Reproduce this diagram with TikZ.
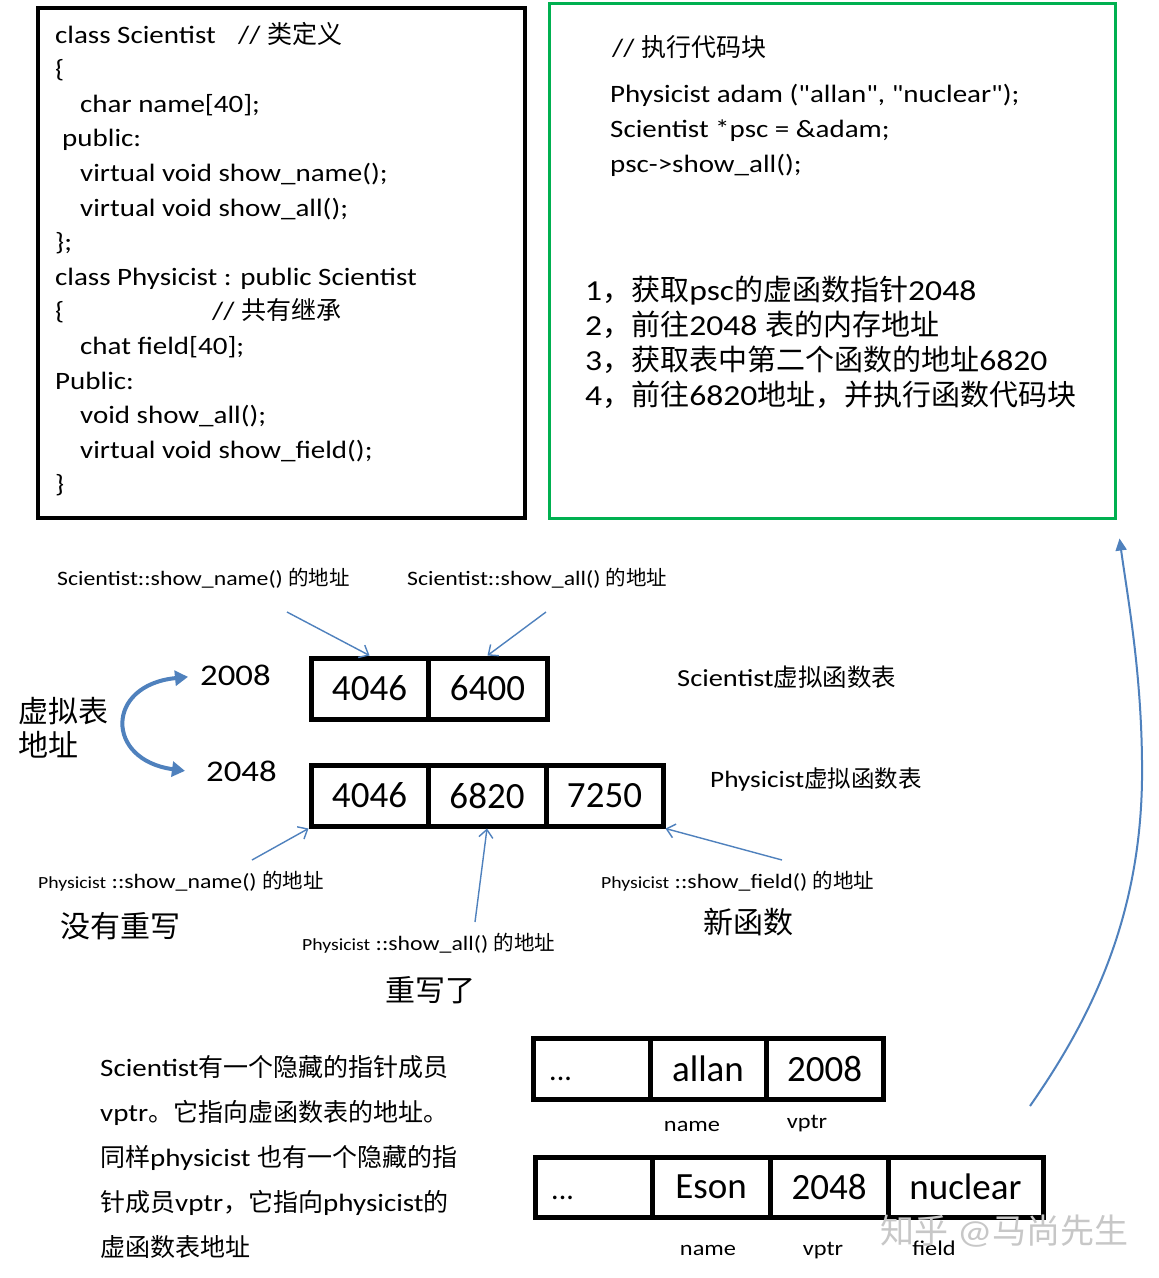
\documentclass[tikz,border=0pt]{standalone}
\usepackage{fontspec}
\setmainfont{Carlito}[FakeStretch=1.16]
\newfontfamily\qfont{Carlito}[FakeStretch=1.16]
\newfontfamily\cellfont{Carlito}
\newfontfamily\cjk{Noto Sans CJK SC}
\usetikzlibrary{arrows.meta}
\newcommand\zh[1]{{\cjk #1}}
\definecolor{arrowblue}{RGB}{79,129,189}
\definecolor{boxgreen}{RGB}{0,176,80}
\begin{document}
\begin{tikzpicture}[x=1pt,y=-1pt,
  every node/.style={inner sep=0pt},
  codetxt/.style={anchor=base west, font=\fontsize{25}{28}\selectfont},
  steptxt/.style={anchor=base west, font=\fontsize{29}{34}\selectfont},
  lbl/.style={anchor=base west, font=\fontsize{20.5}{24}\selectfont},
  bigtxt/.style={anchor=base west, font=\fontsize{30}{34}\selectfont},
  midtxt/.style={anchor=base west, font=\fontsize{24.5}{28}\selectfont},
  paratxt/.style={anchor=base west, font=\fontsize{25}{28}\selectfont},
  fieldlbl/.style={anchor=base, font=\fontsize{21}{24}\selectfont},
  cell/.style={draw, line width=5pt, minimum height=61pt, font=\cellfont\fontsize{37}{40}\selectfont},
  ptr/.style={draw=arrowblue, line width=1.4pt, -{Straight Barb[length=8pt,width=14pt]}},
  curvearrow/.style={draw=arrowblue, line width=4pt, {Triangle[length=13pt,width=15pt]}-{Triangle[length=13pt,width=15pt]}},
  bigarrow/.style={draw=arrowblue, line width=2pt, -{Triangle[length=12pt,width=11pt]}}
]
\useasboundingbox (0,0) rectangle (1159,1278);
\fill[white] (0,0) rectangle (1159,1278);

% ---------- left code box ----------
\node[draw, line width=4pt, minimum width=487pt, minimum height=510pt] (codebox) at (281.5,263) {};
\node[codetxt] (l1) at (55,43) {class Scientist};
\node[codetxt] (l1c) at (238,43) {// \zh{类定义}};
\node[codetxt] (l2) at (55,77.6) {\{};
\node[codetxt] (l3) at (80,112.2) {char name[40];};
\node[codetxt] (l4) at (62,146.8) {public:};
\node[codetxt] (l5) at (80,181.4) {virtual void show\_name();};
\node[codetxt] (l6) at (80,216) {virtual void show\_all();};
\node[codetxt] (l7) at (55,250.6) {\};};
\node[codetxt] (l8) at (55,285.2) {class Physicist : public Scientist};
\node[codetxt] (l9) at (55,319.8) {\{};
\node[codetxt] (l9c) at (212,319.8) {// \zh{共有继承}};
\node[codetxt] (l10) at (80,354.4) {chat field[40];};
\node[codetxt] (l11) at (55,389) {Public:};
\node[codetxt] (l12) at (80,423.6) {void show\_all();};
\node[codetxt] (l13) at (80,458.2) {virtual void show\_field();};
\node[codetxt] (l14) at (55,492.8) {\}};

% ---------- green code box ----------
\node[draw=boxgreen, line width=3pt, minimum width=566pt, minimum height=515pt] (green) at (832,260.5) {};
\node[codetxt] (g1) at (612,56) {// \zh{执行代码块}};
\node[codetxt, font=\qfont\fontsize{25}{28}\selectfont] (g2) at (610,102) {Physicist adam ("allan", "nuclear");};
\node[codetxt] (g3) at (610,137) {Scientist *psc = \&adam;};
\node[codetxt] (g4) at (610,172) {psc->show\_all();};
\node[steptxt] (s1) at (585,300) {1\zh{，获取}psc\zh{的虚函数指针}2048};
\node[steptxt] (s2) at (585,335) {2\zh{，前往}2048 \zh{表的内存地址}};
\node[steptxt] (s3) at (585,370) {3\zh{，获取表中第二个函数的地址}6820};
\node[steptxt] (s4) at (585,405) {4\zh{，前往}6820\zh{地址，并执行函数代码块}};

% ---------- Scientist vtable ----------
\node[lbl] (sn) at (57,585) {Scientist::show\_name() \zh{的地址}};
\node[lbl] (sa) at (407,585) {Scientist::show\_all() \zh{的地址}};
\node[cell, minimum width=117pt] (sc1) at (369.5,688.5) {4046};
\node[cell, minimum width=119pt] (sc2) at (487.5,688.5) {6400};
\node[midtxt] (sct) at (677,686) {Scientist\zh{虚拟函数表}};
\coordinate (a1s) at (287,612);
\coordinate (a2s) at (546,612);
\draw[ptr] (a1s) -- (sc1.north);
\draw[ptr] (a2s) -- (sc2.north);

% ---------- vtable addresses ----------
\node[bigtxt] (v2008) at (200,685) {2008};
\node[bigtxt] (v2048) at (206,781) {2048};
\node[bigtxt] (vt1) at (18,722) {\zh{虚拟表}};
\node[bigtxt] (vt2) at (18,756) {\zh{地址}};
\draw[curvearrow] ([xshift=-21pt]v2048.west) .. controls (105,760) and (105,685) .. ([xshift=-12pt,yshift=-2pt]v2008.west);

% ---------- Physicist vtable ----------
\node[cell, minimum width=117pt] (pc1) at (369.5,795.5) {4046};
\node[cell, minimum width=118pt] (pc2) at (487,795.5) {6820};
\node[cell, minimum width=117pt] (pc3) at (604.5,795.5) {7250};
\node[midtxt, font=\fontsize{23.5}{28}\selectfont] (pct) at (710,787) {Physicist\zh{虚拟函数表}};
\node[lbl] (pn) at (38,888) {{\fontsize{17}{20}\selectfont Physicist} ::show\_name() \zh{的地址}};
\node[lbl] (pa) at (302,950) {{\fontsize{17}{20}\selectfont Physicist} ::show\_all() \zh{的地址}};
\node[lbl] (pf) at (601,888) {{\fontsize{17}{20}\selectfont Physicist} ::show\_field() \zh{的地址}};
\node[bigtxt] (nr) at (60,937) {\zh{没有重写}};
\node[bigtxt] (rw) at (385,1001) {\zh{重写了}};
\node[bigtxt] (nf) at (703,933) {\zh{新函数}};
\coordinate (a3s) at (252,860);
\coordinate (a4s) at (475,922);
\coordinate (a5s) at (782,860);
\draw[ptr] (a3s) -- (pc1.south west);
\draw[ptr] (a4s) -- (pc2.south);
\draw[ptr] (a5s) -- (pc3.south east);

% ---------- explanation ----------
\node[paratxt] (p1) at (100,1076) {Scientist\zh{有一个隐藏的指针成员}};
\node[paratxt] (p2) at (100,1121) {vptr\zh{。它指向虚函数表的地址。}};
\node[paratxt] (p3) at (100,1166) {\zh{同样}physicist \zh{也有一个隐藏的指}};
\node[paratxt] (p4) at (100,1211) {\zh{针成员}vptr\zh{，它指向}physicist\zh{的}};
\node[paratxt] (p5) at (100,1256) {\zh{虚函数表地址}};

% ---------- objects ----------
\node[cell, minimum width=117pt] (o1) at (591.5,1068.5) {};
\node[cell, minimum width=116pt] (o2) at (708,1068.5) {allan};
\node[cell, minimum width=117pt] (o3) at (824.5,1068.5) {2008};
\node[anchor=base west, font=\cellfont\fontsize{30}{34}\selectfont] (o1d) at (549,1080) {...};
\node[fieldlbl] (o2l) at (692,1131) {name};
\node[fieldlbl] (o3l) at (807,1128) {vptr};

\node[cell, minimum width=117pt, minimum height=60pt] (q1) at (593.5,1187) {};
\node[cell, minimum width=118pt, minimum height=60pt] (q2) at (711,1187) {Eson};
\node[cell, minimum width=118pt, minimum height=60pt] (q3) at (829,1187) {2048};
\node[cell, minimum width=155pt, minimum height=60pt] (q4) at (965.5,1187) {nuclear};
\node[anchor=base west, font=\cellfont\fontsize{30}{34}\selectfont] (q1d) at (551,1199) {...};
\node[fieldlbl] (q2l) at (708,1255) {name};
\node[fieldlbl] (q3l) at (823,1255) {vptr};
\node[fieldlbl] (q4l) at (934,1255) {field};

% watermark
\node[anchor=base west, font=\fontsize{34}{38}\selectfont, text=black!22] (wm) at (880,1243) {\zh{知乎} @\zh{马尚先生}};

% ---------- big arrow ----------
\coordinate (bstart) at (1030,1106);
\draw[bigarrow] (bstart) .. controls (1090,1020) and (1140,920) .. (1142,780) .. controls (1143,680) and (1128,600) .. ([shift={(3,19)}]green.south east);
\end{tikzpicture}
\end{document}
